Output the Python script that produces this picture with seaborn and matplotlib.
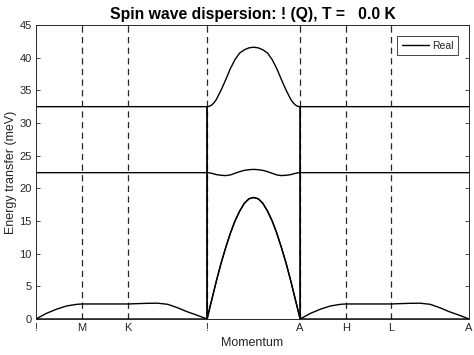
import numpy as np
import pandas as pd
import matplotlib
matplotlib.use('Agg')
from matplotlib import pyplot as plt
import seaborn as sns

# path through the Brillouin zone
tick_labels = ['!', 'M', 'K', '!', 'A', 'H', 'L', 'A']
tick_pos = [0.0, 0.106, 0.212, 0.395, 0.610, 0.716, 0.820, 1.0]

# in-plane segments (! - M - K - !  and  A - H - L - A), fraction along segment
basal_frac = [0.0, 0.06, 0.12, 0.18, 0.24, 0.27, 0.54, 0.59, 0.65, 0.71, 0.77, 0.83, 0.88, 0.94, 1.0]
basal_acoustic = [0.0, 0.85, 1.5, 2.0, 2.25, 2.3, 2.3, 2.35, 2.4, 2.42, 2.25, 1.7, 1.15, 0.6, 0.0]
basal_zero = [0.0, 0.0, 0.0, 0.0, 0.0, 0.0, 0.0, 0.0, 0.0, 0.0, 0.0, 0.0, 0.0, 0.0, 0.0]
basal_optic = [22.4, 22.4, 22.4, 22.4, 22.4, 22.4, 22.4, 22.4, 22.4, 22.4, 22.4, 22.4, 22.4, 22.4, 22.4]
basal_top = [32.5, 32.5, 32.5, 32.5, 32.5, 32.5, 32.5, 32.5, 32.5, 32.5, 32.5, 32.5, 32.5, 32.5, 32.5]

# ! - A segment
ga_frac = [0.0, 0.025, 0.05, 0.075, 0.1, 0.15, 0.2, 0.25, 0.3, 0.35, 0.4, 0.45, 0.5,
           0.55, 0.6, 0.65, 0.7, 0.75, 0.8, 0.85, 0.9, 0.925, 0.95, 0.975, 1.0]
ga_upper = [32.5, 32.55, 32.75, 33.1, 33.6, 35.0, 36.6, 38.3, 39.7, 40.7, 41.2, 41.5, 41.6,
            41.5, 41.2, 40.7, 39.7, 38.3, 36.6, 35.0, 33.6, 33.1, 32.75, 32.55, 32.5]
ga_middle = [22.4, 22.37, 22.3, 22.2, 22.1, 22.0, 21.95, 22.05, 22.3, 22.55, 22.75, 22.85, 22.9,
             22.85, 22.75, 22.55, 22.3, 22.05, 21.95, 22.0, 22.1, 22.2, 22.3, 22.37, 22.4]
ga_lower = [0.0, 1.45, 2.9, 4.35, 5.8, 8.5, 10.9, 13.1, 15.0, 16.5, 17.7, 18.4, 18.6,
            18.4, 17.7, 16.5, 15.0, 13.1, 10.9, 8.5, 5.8, 4.35, 2.9, 1.45, 0.0]


def seg_x(frac, start, end):
    return start + np.array(frac) * (end - start)


x_all = np.concatenate([seg_x(basal_frac, tick_pos[0], tick_pos[3]),
                        seg_x(ga_frac, tick_pos[3], tick_pos[4]),
                        seg_x(basal_frac, tick_pos[4], tick_pos[7])])

modes = {
    'acoustic': (basal_acoustic, ga_lower, basal_acoustic),
    'zero': (basal_zero, ga_upper, basal_zero),
    'optic': (basal_optic, ga_middle, basal_optic),
    'top': (basal_top, ga_lower, basal_top),
}

rows = []
for name, (b1, ga, b2) in modes.items():
    for q, e in zip(x_all, b1 + ga + b2):
        rows.append({'mode': name, 'q': q, 'E': e})
df = pd.DataFrame(rows)

sns.set_style('ticks')
plt.rcParams['font.family'] = ['Liberation Sans', 'DejaVu Sans']
plt.rcParams['xtick.direction'] = 'in'
plt.rcParams['ytick.direction'] = 'in'

fig = plt.figure(figsize=(4.74, 3.55), dpi=100)
ax = fig.add_axes([36/474, 1 - 319/355, 433/474, 294/355])

axcol = '#262626'
for x in tick_pos[1:-1]:
    ax.axvline(x, color=axcol, lw=0.9, ls=(0, (5, 3.5)), zorder=1)

sns.lineplot(data=df, x='q', y='E', units='mode', estimator=None, sort=False,
             color='black', lw=1.0, ax=ax, zorder=2)

ax.set_xlim(0, 1)
ax.set_ylim(0, 45)
ax.set_yticks(np.arange(0, 46, 5))
ax.set_xticks(tick_pos)
ax.set_xticklabels(tick_labels)
ax.tick_params(axis='both', labelsize=8, colors=axcol, length=3, width=0.6,
               top=True, right=True, pad=3)
for s in ax.spines.values():
    s.set_color(axcol)
    s.set_linewidth(0.7)

ax.set_xlabel('Momentum', fontsize=9, color=axcol, labelpad=3)
ax.set_ylabel('Energy transfer (meV)', fontsize=9, color=axcol, labelpad=2)
ax.set_title('Spin wave dispersion: ! (Q), T =   0.0 K', fontsize=11.3,
             fontweight='bold', color='black', pad=4)

leg = ax.legend([ax.lines[-1]], ['Real'], loc='upper right', fontsize=7.5,
                fancybox=False, framealpha=1, edgecolor=axcol,
                borderaxespad=1.1, handlelength=2.6, handletextpad=0.3,
                borderpad=0.4)
leg.get_frame().set_linewidth(0.6)

fig.savefig('out.png', dpi=100)
